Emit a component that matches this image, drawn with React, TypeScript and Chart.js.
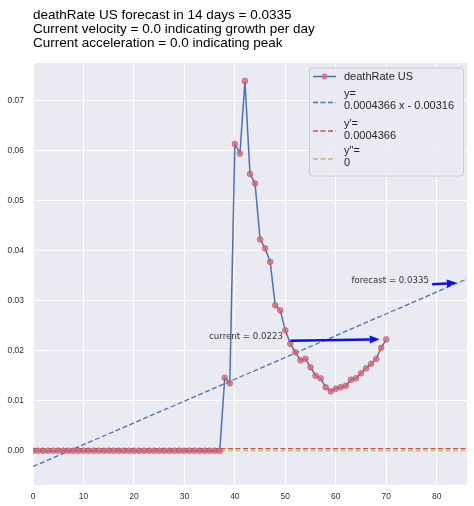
import { useEffect, useRef } from "react";
import { Chart, registerables } from "chart.js";

Chart.register(...registerables);

// deathRate US, one value per day starting at day 0
const DEATH_RATE = [
  0, 0, 0, 0, 0, 0, 0, 0, 0, 0,
  0, 0, 0, 0, 0, 0, 0, 0, 0, 0,
  0, 0, 0, 0, 0, 0, 0, 0, 0, 0,
  0, 0, 0, 0, 0, 0, 0, 0,
  0.0146, 0.0135, 0.0614, 0.0595, 0.074, 0.0554, 0.0535, 0.0423, 0.0405, 0.0378,
  0.0291, 0.0281, 0.0241, 0.0214, 0.0197, 0.0181, 0.0184, 0.0167, 0.015, 0.0145,
  0.0127, 0.0119, 0.0124, 0.0127, 0.013, 0.0142, 0.0145, 0.0155, 0.0165, 0.0174,
  0.0184, 0.0206, 0.0223,
];

// fitted line y = 0.0004366 x - 0.00316, end points
const TREND_X = [0, 86];
const TREND_Y = [-0.00316, 0.03439];
const VELOCITY = 0.0004366;
const ACCEL = 0;

const X_TICKS = [0, 10, 20, 30, 40, 50, 60, 70, 80];
const Y_TICKS = [0, 0.01, 0.02, 0.03, 0.04, 0.05, 0.06, 0.07];

const TITLE = [
  "deathRate US forecast in 14 days = 0.0335",
  "Current velocity = 0.0 indicating growth per day",
  "Current acceleration = 0.0 indicating peak",
];

const LEGEND_LABELS = [
  ["deathRate US"],
  ["y=", "0.0004366 x - 0.00316"],
  ["y'=", "0.0004366"],
  ['y"=', "0"],
];

// text + arrow annotations, in data units
const NOTES = [
  { text: "current = 0.0223", textX: 34.9, textY: 0.0229, fromX: 51.0, fromY: 0.022, toX: 68.7, toY: 0.0223 },
  { text: "forecast = 0.0335", textX: 63.1, textY: 0.0341, fromX: 79.1, fromY: 0.0333, toX: 84, toY: 0.0336 },
];

const BLUE = "#4C72B0";
const RED = "#C44E52";
const YELLOW = "#CCB974";
const FONT = "'Liberation Sans', Arial, sans-serif";

const bgPlugin = {
  id: "axesBg",
  beforeDraw(chart: Chart) {
    const { ctx, chartArea: a, width, height } = chart;
    ctx.save();
    ctx.fillStyle = "#fff";
    ctx.fillRect(0, 0, width, height);
    ctx.fillStyle = "#EAEAF2";
    ctx.fillRect(a.left, a.top, a.right - a.left, a.bottom - a.top);
    ctx.restore();
  },
};

function arrow(ctx: CanvasRenderingContext2D, x1: number, y1: number, x2: number, y2: number) {
  const ang = Math.atan2(y2 - y1, x2 - x1);
  const len = 10;
  const hw = 4;
  const bx = x2 - len * Math.cos(ang);
  const by = y2 - len * Math.sin(ang);
  ctx.beginPath();
  ctx.moveTo(x1, y1);
  ctx.lineTo(bx, by);
  ctx.stroke();
  ctx.beginPath();
  ctx.moveTo(x2, y2);
  ctx.lineTo(bx + hw * Math.sin(ang), by - hw * Math.cos(ang));
  ctx.lineTo(bx - hw * Math.sin(ang), by + hw * Math.cos(ang));
  ctx.closePath();
  ctx.fill();
}

const notesPlugin = {
  id: "notes",
  afterDatasetsDraw(chart: Chart) {
    const { ctx } = chart;
    const xs = chart.scales.x;
    const ys = chart.scales.y;
    ctx.save();
    ctx.font = "8.6px 'DejaVu Sans', sans-serif";
    ctx.textBaseline = "middle";
    ctx.textAlign = "left";
    for (const n of NOTES) {
      ctx.fillStyle = "#333";
      ctx.fillText(n.text, xs.getPixelForValue(n.textX), ys.getPixelForValue(n.textY));
      ctx.strokeStyle = "#1010e0";
      ctx.fillStyle = "#1010e0";
      ctx.lineWidth = 2.5;
      arrow(
        ctx,
        xs.getPixelForValue(n.fromX),
        ys.getPixelForValue(n.fromY),
        xs.getPixelForValue(n.toX),
        ys.getPixelForValue(n.toY)
      );
    }
    ctx.restore();
  },
};

const legendPlugin = {
  id: "boxLegend",
  afterDraw(chart: Chart) {
    const { ctx, chartArea: a } = chart;
    const w = 154;
    const h = 108;
    const left = a.right - 4 - w;
    const top = a.top + 4.5;
    const rows = [
      { lines: LEGEND_LABELS[0], textY: [9], sample: 9, color: BLUE, dash: [] as number[], marker: true },
      { lines: LEGEND_LABELS[1], textY: [26, 38], sample: 35, color: BLUE, dash: [5, 2.5], marker: false },
      { lines: LEGEND_LABELS[2], textY: [56, 68.5], sample: 63.5, color: RED, dash: [5, 2.5], marker: false },
      { lines: LEGEND_LABELS[3], textY: [83, 95.5], sample: 91.5, color: YELLOW, dash: [5, 2.5], marker: false },
    ];
    ctx.save();
    ctx.beginPath();
    ctx.roundRect(left + 0.5, top + 0.5, w, h, 3);
    ctx.fillStyle = "rgba(234,234,242,0.8)";
    ctx.fill();
    ctx.strokeStyle = "#cccccc";
    ctx.lineWidth = 1;
    ctx.stroke();
    ctx.font = `11px ${FONT}`;
    ctx.textBaseline = "middle";
    ctx.textAlign = "left";
    for (const r of rows) {
      const sy = top + r.sample;
      ctx.strokeStyle = r.color;
      ctx.lineWidth = 1.5;
      ctx.setLineDash(r.dash);
      ctx.beginPath();
      ctx.moveTo(left + 4, sy);
      ctx.lineTo(left + 27, sy);
      ctx.stroke();
      ctx.setLineDash([]);
      if (r.marker) {
        ctx.beginPath();
        ctx.arc(left + 15.5, sy, 2.9, 0, Math.PI * 2);
        ctx.fillStyle = "rgba(214,100,118,0.8)";
        ctx.fill();
      }
      ctx.fillStyle = "#262626";
      r.lines.forEach((t, i) => ctx.fillText(t, left + 35, top + r.textY[i]));
    }
    ctx.restore();
  },
};

export default function App() {
  const canvasRef = useRef<HTMLCanvasElement>(null);

  useEffect(() => {
    document.body.style.margin = "0";
    if (!canvasRef.current) return;
    const rateData = DEATH_RATE.map((y, i) => ({ x: i, y }));
    const endX = TREND_X[TREND_X.length - 1];

    const chart = new Chart(canvasRef.current, {
      type: "line",
      data: {
        datasets: [
          {
            label: "deathRate US",
            data: rateData,
            borderColor: BLUE,
            borderWidth: 1.5,
            pointRadius: 2.9,
            pointBorderWidth: 0.8,
            pointBackgroundColor: "rgba(214,100,118,0.75)",
            pointBorderColor: "rgba(196,78,82,0.7)",
            tension: 0,
          },
          {
            label: "y=",
            data: TREND_X.map((x, i) => ({ x, y: TREND_Y[i] })),
            borderColor: BLUE,
            borderWidth: 1.3,
            borderDash: [5, 2.5],
            pointRadius: 0,
          },
          {
            label: "y'=",
            data: [{ x: 0, y: VELOCITY }, { x: endX, y: VELOCITY }],
            borderColor: RED,
            borderWidth: 1.3,
            borderDash: [5, 2.5],
            pointRadius: 0,
          },
          {
            label: 'y"=',
            data: [{ x: 0, y: ACCEL }, { x: endX, y: ACCEL }],
            borderColor: YELLOW,
            borderWidth: 1.3,
            borderDash: [5, 2.5],
            pointRadius: 0,
          },
        ],
      },
      options: {
        responsive: false,
        animation: false,
        layout: { padding: { left: 0, right: 7, top: 0, bottom: 0 } },
        plugins: {
          legend: { display: false },
          tooltip: { enabled: false },
          title: {
            display: true,
            text: TITLE,
            align: "start",
            fullSize: false,
            color: "#000",
            font: { family: FONT, size: 13.5, weight: "normal", lineHeight: 14 / 13.5 },
            padding: { top: 8, bottom: 13 },
          },
        },
        scales: {
          x: {
            type: "linear",
            min: 0,
            max: 86,
            afterBuildTicks: (s) => { s.ticks = X_TICKS.map((value) => ({ value })); },
            afterFit: (s) => { s.height = 21; },
            grid: { color: "#fff", lineWidth: 1, drawTicks: false },
            border: { display: false },
            ticks: { color: "#333", font: { family: FONT, size: 8.5 }, padding: 7, maxRotation: 0 },
          },
          y: {
            min: -0.00686,
            max: 0.0776,
            afterBuildTicks: (s) => { s.ticks = Y_TICKS.map((value) => ({ value })); },
            afterFit: (s) => { s.width = 33; },
            grid: { color: "#fff", lineWidth: 1, drawTicks: false },
            border: { display: false },
            ticks: {
              color: "#333",
              font: { family: FONT, size: 8.5 },
              padding: 9,
              callback: (v) => (v as number).toFixed(2),
            },
          },
        },
      },
      plugins: [bgPlugin, notesPlugin, legendPlugin],
    });

    return () => chart.destroy();
  }, []);

  return (
    <div style={{ width: 474, height: 506 }}>
      <canvas ref={canvasRef} width={474} height={506} />
    </div>
  );
}
